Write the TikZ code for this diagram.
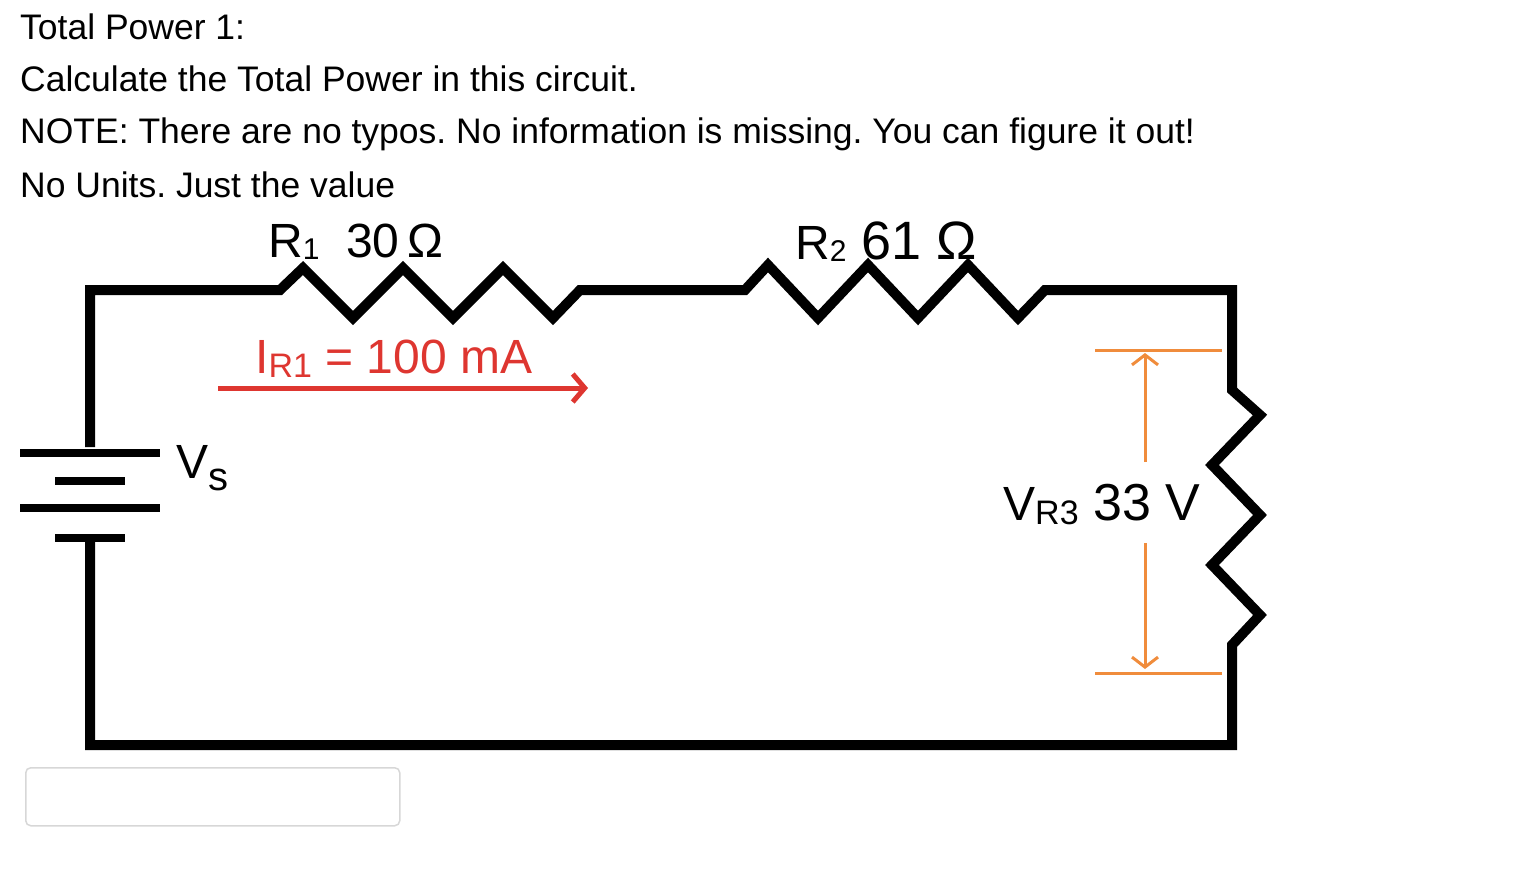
\documentclass[tikz,border=0pt]{standalone}
\usepackage{fontspec}
\setmainfont{Liberation Sans}
\usetikzlibrary{arrows.meta}
\begin{document}
\frenchspacing
\begin{tikzpicture}[x=1pt,y=-1pt,
  wire/.style={line width=10pt,line join=miter},
  txt/.style={anchor=base west,inner sep=0pt,font=\fontsize{35.5}{40}\selectfont},
  lbl/.style={anchor=base west,inner sep=0pt,font=\fontsize{48}{54}\selectfont},
  orng/.style={draw={rgb,255:red,240;green,140;blue,60},line width=3pt}]
\definecolor{redc}{RGB}{222,54,48}
\definecolor{orc}{RGB}{240,140,60}
\useasboundingbox (0,0) rectangle (1518,872);
\node[txt] (t1) at (20,40) {Total Power 1:};
\node[txt] (t2) at (20,92) {Calculate the Total Power in this circuit.};
\node[txt] (t3) at (20,144) {NOTE: There are no typos. No information is missing. You can figure it out!};
\node[txt] (t4) at (20,197) {No Units. Just the value};
% circuit
\draw[wire] (90,447) -- (90,290) -- (280,290) -- (303,268) -- (353,318) -- (403,268) -- (453,318) -- (503,268) -- (553,318) -- (580,290) -- (745,290)
  -- (768,265) -- (818,318) -- (868,265) -- (918,318) -- (968,265) -- (1018,318) -- (1045,290) -- (1232,290) -- (1232,390)
  -- (1260,415) -- (1212,465) -- (1260,515) -- (1212,565) -- (1260,615) -- (1232,645) -- (1232,745) -- (90,745) -- (90,538);
\draw[line width=8pt] (20,453) -- (160,453) (20,508) -- (160,508);
\draw[line width=8pt] (55,481) -- (125,481) (55,538) -- (125,538);
\node[lbl] (r1) at (268,257) {R\fontsize{30}{32}\selectfont\raisebox{-2pt}{1}\fontsize{48}{54}\selectfont\ \ 30\,Ω};
\node[lbl] (r2) at (795,259) {R\fontsize{30}{32}\selectfont\raisebox{-2pt}{2}\fontsize{54}{60}\selectfont\ 61 Ω};
\node[lbl] (vs) at (176,478) {V\fontsize{40}{44}\selectfont\raisebox{-12pt}{s}};
% current
\node[lbl,text=redc] (ir) at (255,373) {I\fontsize{34}{38}\selectfont\raisebox{-4pt}{R1}\fontsize{48}{54}\selectfont\ = 100 mA};
\coordinate (ia) at (218,388); \coordinate (ib) at (588,388);
\draw[redc,line width=5pt,-{Straight Barb[length=12pt,width=28pt,line width=5pt]}] (ia) -- (ib);
% voltage
\draw[orng] (1095,350) -- (1222,350) (1095,673) -- (1222,673);
\coordinate (va) at (1145,462); \coordinate (vb) at (1145,353);
\coordinate (vc) at (1145,543); \coordinate (vd) at (1145,669);
\draw[orc,line width=3pt,-{Straight Barb[length=10pt,width=26pt]}] (va) -- (vb);
\draw[orc,line width=3pt,-{Straight Barb[length=10pt,width=26pt]}] (vc) -- (vd);
\node[lbl] (vr) at (1003,520) {V\fontsize{34}{38}\selectfont\raisebox{-4pt}{R3}\fontsize{52}{58}\selectfont\ 33 V};
% answer box
\node[draw={rgb,255:red,215;green,215;blue,215},line width=1.5pt,rounded corners=5pt,minimum width=374pt,minimum height=58pt,anchor=north west,inner sep=0pt] (box) at (25,767) {};
\end{tikzpicture}
\end{document}
